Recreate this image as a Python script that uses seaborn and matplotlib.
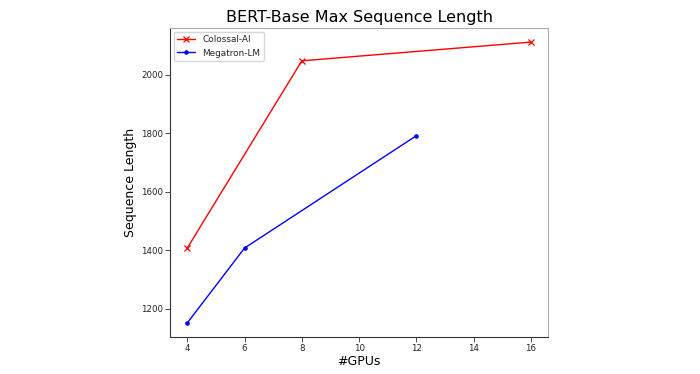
import matplotlib
matplotlib.use("Agg")
import matplotlib.pyplot as plt
import seaborn as sns
import pandas as pd

colossal_gpus = [4, 8, 16]
colossal_len = [1408, 2048, 2112]
megatron_gpus = [4, 6, 12]
megatron_len = [1152, 1408, 1792]

sns.set_style("white")
plt.rcParams['font.family'] = ['DejaVu Sans']

df = pd.concat([
    pd.DataFrame({"gpus": colossal_gpus, "len": colossal_len, "system": "Colossal-AI"}),
    pd.DataFrame({"gpus": megatron_gpus, "len": megatron_len, "system": "Megatron-LM"}),
])

fig = plt.figure(figsize=(7, 3.74), dpi=100)
ax = fig.add_axes([0.243, 0.099, 0.540, 0.826])
sub = df[df.system == "Colossal-AI"]
sns.lineplot(data=sub, x="gpus", y="len", ax=ax, color="red", marker="x",
             markersize=5, markeredgecolor="red", markeredgewidth=0.9,
             label="Colossal-AI", linewidth=1.0)
sub = df[df.system == "Megatron-LM"]
sns.lineplot(data=sub, x="gpus", y="len", ax=ax, color="blue", marker="o",
             markersize=2.5, markeredgecolor="blue", label="Megatron-LM", linewidth=1.0)

ax.set_title("BERT-Base Max Sequence Length", fontsize=11.5, color="black", pad=4)
ax.set_xlabel("#GPUs", fontsize=9, color="black", labelpad=2)
ax.set_ylabel("Sequence Length", fontsize=9, color="black", labelpad=3)
ax.set_xticks([4, 6, 8, 10, 12, 14, 16])
ax.set_yticks([1200, 1400, 1600, 1800, 2000])
ax.tick_params(axis="both", labelsize=6.2, length=3.3, width=0.6, pad=1.5,
               left=True, bottom=True, color="#333333", labelcolor="#222222")
for s in ["left", "bottom"]:
    ax.spines[s].set_color("#333333")
    ax.spines[s].set_linewidth(0.8)
for s in ["top", "right"]:
    ax.spines[s].set_color("#aaaaaa")
    ax.spines[s].set_linewidth(0.8)
ax.legend(loc="upper left", fontsize=6.4, frameon=True, borderpad=0.4,
          handlelength=2.0, borderaxespad=0.4)
fig.savefig("out.png", dpi=100)
